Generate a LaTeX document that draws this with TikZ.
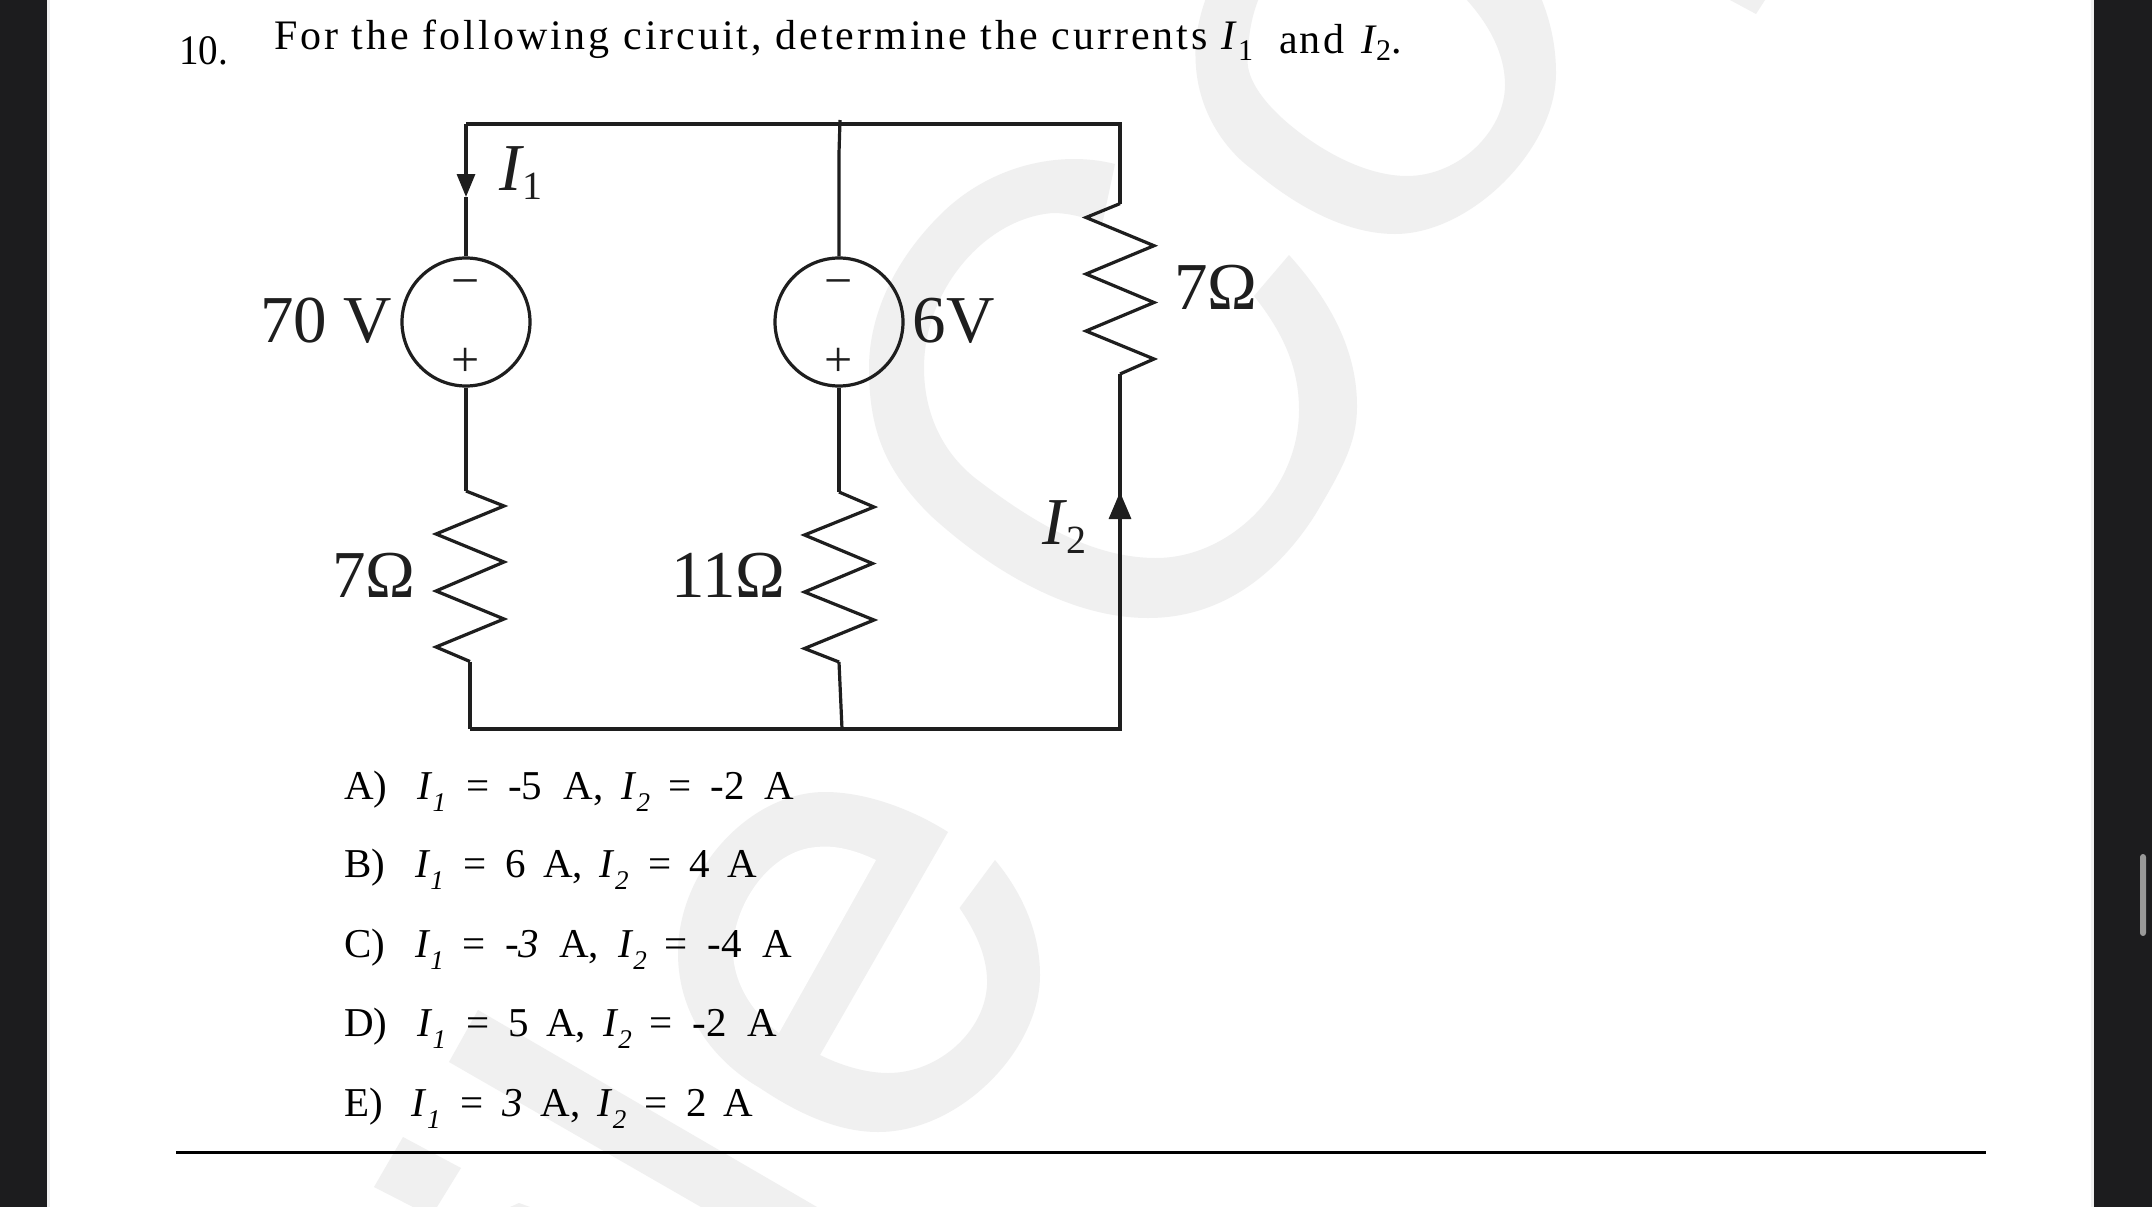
\documentclass[tikz,border=0pt]{standalone}
\usepackage{fontspec}
\usepackage{graphicx}
\setmainfont{Liberation Serif}
\usetikzlibrary{arrows.meta}
\newcommand{\fsz}[1]{\fontsize{#1}{#1}\selectfont}
\newcommand{\gp}[1]{\hspace*{#1pt}}
\newcommand{\optI}[1]{\textit{I}\raisebox{-11.5pt}{\fsz{27}\textit{#1}}}
\newcommand{\spc}[2]{\addfontfeature{LetterSpace=#1}#2}
\tikzset{
  wm/.style={fill=wmgrey,draw=none},
  wire/.style={draw=ink,line width=3.2pt,line join=miter},
  src/.style={circle,draw=ink,line width=3.2pt,minimum size=128pt,inner sep=0pt},
  sign/.style={inner sep=0pt,font=\fsz{50},text=ink},
  lab/.style={anchor=base west,inner sep=0pt,font=\fsz{67},text=ink},
  sublab/.style={anchor=base west,inner sep=0pt,font=\fsz{40},text=ink},
  head/.style={anchor=base west,inner sep=0pt,font=\fsz{42},text=black},
  opt/.style={anchor=base west,inner sep=0pt,font=\fsz{41},text=black},
  tipa/.style={-{Triangle[length=23pt,width=18pt]}},
  tipb/.style={-{Triangle[length=27pt,width=22pt]}}
}
\definecolor{ink}{HTML}{1E1E1E}
\definecolor{wmgrey}{HTML}{F0F0F0}
\definecolor{barc}{HTML}{1C1C1E}
\begin{document}
\begin{tikzpicture}[x=1pt,y=-1pt]
\useasboundingbox (0,0) rectangle (2152,1207);
\fill[white] (0,0) rectangle (2152,1207);
% watermark
\fill[wm] (1206,-2) .. controls (1198,20) and (1195,40) .. (1195.5,57) .. controls (1196,110) and (1225,150) .. (1253,170) .. controls (1300,210) and (1350,234) .. (1395,234) .. controls (1470,234) and (1556,150) .. (1556,73) .. controls (1556,45) and (1550,20) .. (1541,-2)
  -- (1465,-2) .. controls (1490,25) and (1505,55) .. (1505,85) .. controls (1505,130) and (1460,176) .. (1407,176) .. controls (1365,176) and (1320,150) .. (1290,125) .. controls (1260,100) and (1245,75) .. (1248,57) .. controls (1248,35) and (1252,15) .. (1259,-2) -- cycle;
\fill[wm] (1730,0) -- (1756,14) -- (1765,0) -- cycle;
\fill[wm] (1115,164) .. controls (1060,150) and (990,165) .. (940,215) .. controls (890,265) and (869,320) .. (869,368) .. controls (869,430) and (885,470) .. (930,515) .. controls (990,570) and (1070,618) .. (1148,618) .. controls (1225,618) and (1280,570) .. (1315,515) .. controls (1345,465) and (1357,440) .. (1357,406) .. controls (1357,345) and (1325,295) .. (1289,255)
  -- (1254,296) .. controls (1285,335) and (1299,370) .. (1299,410) .. controls (1299,490) and (1230,558) .. (1156,558) .. controls (1090,558) and (1030,520) .. (975,478) .. controls (940,450) and (924,410) .. (924,368) .. controls (924,290) and (985,218) .. (1053,213) .. controls (1070,213) and (1088,218) .. (1102,225) -- cycle;
\fill[wm] (948,832) .. controls (905,805) and (860,792) .. (825,792) .. controls (750,792) and (678,870) .. (678,953) .. controls (678,1020) and (720,1065) .. (760,1088) .. controls (800,1115) and (840,1132) .. (878,1132) .. controls (960,1132) and (1040,1050) .. (1040,975) .. controls (1040,930) and (1020,890) .. (995,860)
  -- (959.5,908) .. controls (978,935) and (988,960) .. (987,985) .. controls (985,1030) and (940,1073) .. (888,1073) .. controls (865,1073) and (840,1065) .. (820,1055) -- cycle;
\fill[white] (876,860) .. controls (855,850) and (835,845) .. (817,847) .. controls (770,850) and (733,905) .. (733,950) .. controls (733,985) and (755,1015) .. (779,1033) -- cycle;
\fill[wm] (478,1010) -- (817,1207) -- (701,1207) -- (449,1062) -- cycle;
\fill[wm] (403,1137) -- (461,1168) -- (437,1207) -- (413,1207) -- (374,1187) -- cycle;
\fill[wm] (519,1203) -- (530,1207) -- (510,1207) -- cycle;
% side bars
\fill[barc] (0,0) rectangle (47,1207);
\fill[barc] (2094,0) rectangle (2152,1207);
\fill[wmgrey] (47,0) rectangle (50,1207);
\fill[wmgrey] (2091,0) rectangle (2094,1207);
\fill[gray!80,rounded corners=3pt] (2140,854) rectangle (2146,936);
% heading
\node[head] (num) at (179,64) {\scalebox{.93}[1]{10.}};
\node[head] (title) at (274,49.5) {\spc{7.1}{For the following circuit, determine the currents}};
\node[head] (ti1) at (1221,49) {\textit{I}};
\node[anchor=base west,inner sep=0pt,font=\fsz{30}] (ts1) at (1238,60) {1};
\node[head] (tand) at (1279,53) {\spc{5}{and}};
\node[head] (ti2) at (1361,53) {\textit{I}};
\node[anchor=base west,inner sep=0pt,font=\fsz{30}] (ts2) at (1376,60) {2};
\node[head] (tdot) at (1391,53) {.};
% circuit
\node[src] (s1) at (466,322) {};
\node[src] (s2) at (839,322) {};
\node[sign] (m1) at (466,289) {−};
\node[sign] (p1) at (466,362.5) {+};
\node[sign] (m2) at (839,289) {−};
\node[sign] (p2) at (839,362.5) {+};
\coordinate (tl) at (466,124);
\coordinate (tm) at (840,120);
\coordinate (tmb) at (839,153);
\coordinate (tr) at (1120,124);
\coordinate (bl) at (470,729);
\coordinate (bm) at (842,729);
\coordinate (br) at (1120,729);
\coordinate (atip) at (466,197);
\coordinate (btip) at (1120,492);
\coordinate (r1a) at (466,491);
\coordinate (r1b) at (470,661.5);
\coordinate (r2a) at (839,492);
\coordinate (r2b) at (839,662);
\coordinate (r3a) at (1120,203.6);
\coordinate (r3b) at (1120,374);
\draw[wire] (bl) -- (br) -- (btip);
\draw[wire] (r3b) -- (btip);
\draw[wire] (tl) -- (tr) -- (r3a);
\draw[wire,tipa] (tl) -- (atip);
\draw[wire] (atip) -- (s1.north);
\draw[wire,tipb] (br) -- (btip);
\draw[wire] (tm) -- (tmb) -- (s2.north);
\draw[wire] (s1.south) -- (r1a);
\draw[wire] (s2.south) -- (r2a);
\draw[wire] (r2b) -- (bm);
\draw[wire] (r1b) -- (bl);
\draw[wire] (r1a) -- (504,506) -- (436,534) -- (504,562) -- (436,591) -- (504,619) -- (436,647) -- (r1b);
\draw[wire] (r2a) -- (874,507) -- (804.5,535) -- (872.5,563.5) -- (804.5,592) -- (874,620) -- (804.5,648.5) -- (r2b);
\draw[wire] (r3a) -- (1086,217.5) -- (1154,245.7) -- (1086,274) -- (1154,302.5) -- (1086,331) -- (1154,359) -- (r3b);
% circuit labels
\node[lab] (v1) at (260,342.5) {70 V};
\node[lab] (v2) at (912.5,342.5) {6V};
\node[lab] (r1) at (332,597) {7Ω};
\node[lab] (r2) at (671,597) {11Ω};
\node[lab] (r3) at (1174,309) {7Ω};
\node[lab] (i1) at (499,190) {\textit{I}};
\node[sublab] (i1s) at (522,199) {1};
\node[lab] (i2) at (1042,544) {\textit{I}};
\node[sublab] (i2s) at (1066,553) {2};
% options
\node[opt] (a) at (344,799.5) {A)\gp{30}\optI{1}\gp{20}=\gp{19}-5\gp{21}A,\gp{18}\optI{2}\gp{18.5}=\gp{19}-2\gp{20}A};
\node[opt] (b) at (344,877.5) {B)\gp{30}\optI{1}\gp{20}=\gp{18}6\gp{17.5}A,\gp{17}\optI{2}\gp{19.5}=\gp{18}4\gp{17.5}A};
\node[opt] (c) at (344,957.5) {C)\gp{30}\optI{1}\gp{19}=\gp{19}-\textit{3}\gp{20}A,\gp{19}\optI{2}\gp{17.5}=\gp{20}-4\gp{21}A};
\node[opt] (d) at (344,1036.5) {D)\gp{30}\optI{1}\gp{20}=\gp{19}5\gp{17.5}A,\gp{17}\optI{2}\gp{17.5}=\gp{20}-2\gp{21}A};
\node[opt] (e) at (344,1116.5) {E)\gp{29}\optI{1}\gp{20}=\gp{19}\textit{3}\gp{17.5}A,\gp{17}\optI{2}\gp{18.5}=\gp{18}2\gp{17.5}A};
% rule
\coordinate (rl) at (176,1152);
\coordinate (rr) at (1986,1152);
\draw[black,line width=3pt] (rl) -- (rr);
\end{tikzpicture}
\end{document}
